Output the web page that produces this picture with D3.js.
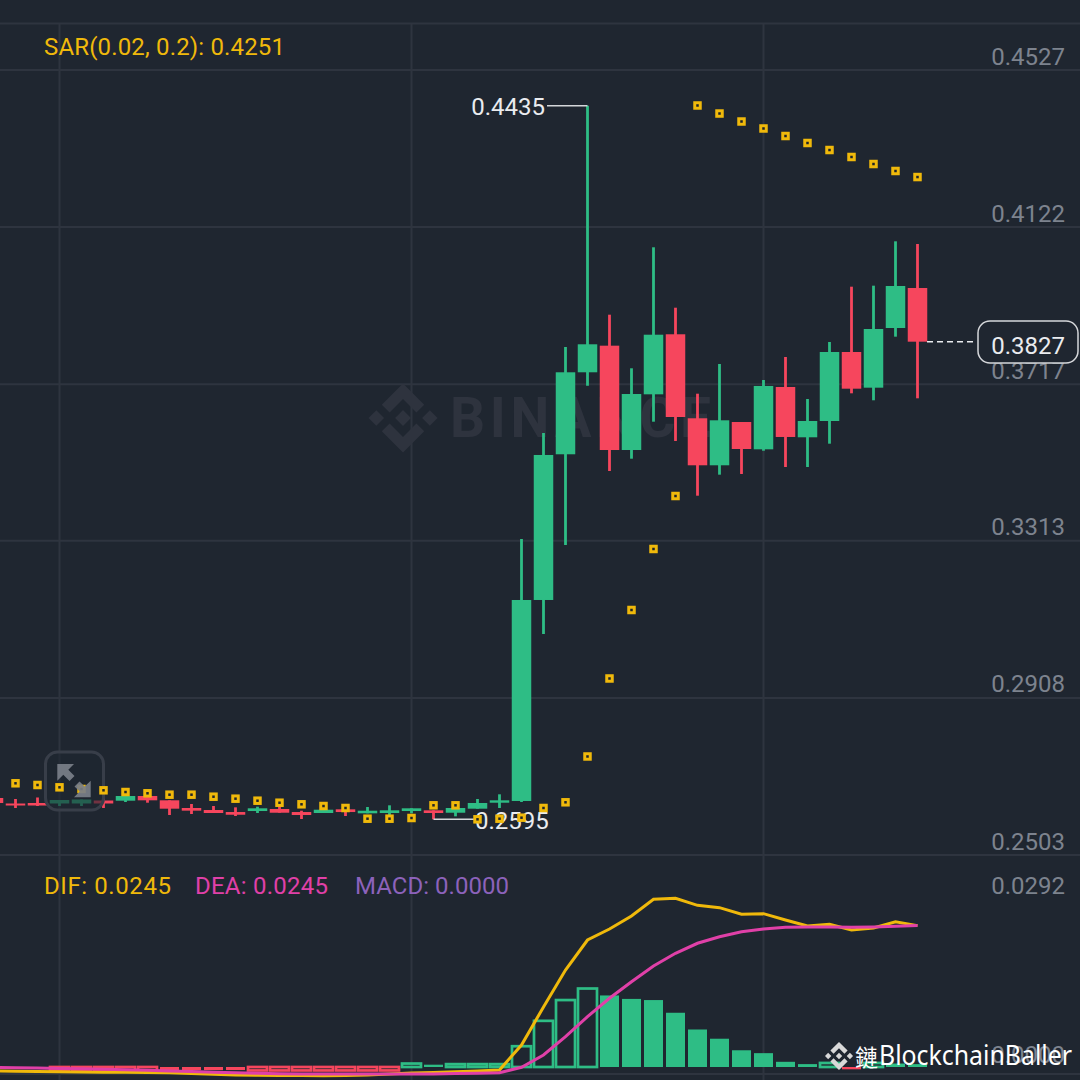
<!DOCTYPE html>
<html>
<head>
<meta charset="utf-8">
<script src="https://d3js.org/d3.v7.min.js"></script>
<style>
  html, body { margin: 0; padding: 0; background: #1f2630; }
  svg { display: block; }
  text { font-family: Roboto, sans-serif; }
</style>
</head>
<body>
<svg id="chart" width="1080" height="1080"></svg>
<script>
// --- Data ---
const opens = [0.26500, 0.26358, 0.26371, 0.26358, 0.26358, 0.26435, 0.26430, 0.26551, 0.26440, 0.26242, 0.26190,
  0.26138, 0.26164, 0.26216, 0.26138, 0.26113, 0.26208, 0.26105, 0.26113, 0.26164, 0.26182, 0.26120,
  0.26224, 0.26378, 0.26422, 0.31605, 0.35362, 0.37476, 0.38162, 0.35472, 0.36908, 0.38456, 0.36290,
  0.35078, 0.36194, 0.35490, 0.37097, 0.35800, 0.36220, 0.37999, 0.37079, 0.38618, 0.39649];
const closes = [0.26371, 0.26306, 0.26306, 0.26448, 0.26461, 0.26358, 0.26551, 0.26440, 0.26224, 0.26173, 0.26113,
  0.26068, 0.26234, 0.26120, 0.26061, 0.26198, 0.26138, 0.26172, 0.26182, 0.26234, 0.26113, 0.26242,
  0.26371, 0.26440, 0.31605, 0.35344, 0.37476, 0.38198, 0.35472, 0.36916, 0.38445, 0.36323, 0.35078,
  0.36238, 0.35498, 0.37123, 0.35808, 0.36220, 0.37999, 0.37053, 0.38592, 0.39701, 0.38265];
const highs = [0.26520, 0.26474, 0.26513, 0.26448, 0.26461, 0.26551, 0.26551, 0.26551, 0.26440, 0.26345, 0.26293,
  0.26259, 0.26275, 0.26301, 0.26172, 0.26198, 0.26208, 0.26267, 0.26311, 0.26234, 0.26182, 0.26242,
  0.26474, 0.26595, 0.33178, 0.35911, 0.38128, 0.4435, 0.38961, 0.37579, 0.40699, 0.39141, 0.36924,
  0.37690, 0.36194, 0.37277, 0.37870, 0.36787, 0.38257, 0.39683, 0.39709, 0.40853, 0.40784];
const lows = [0.26345, 0.26242, 0.26293, 0.26293, 0.26293, 0.26242, 0.26396, 0.26378, 0.26061, 0.26087, 0.26113,
  0.26035, 0.26113, 0.26120, 0.25958, 0.26113, 0.26035, 0.26105, 0.26061, 0.26105, 0.2595, 0.26027,
  0.26224, 0.26242, 0.26396, 0.30728, 0.33023, 0.37130, 0.34931, 0.35248, 0.36202, 0.35705, 0.34294,
  0.34836, 0.34854, 0.35454, 0.35034, 0.35034, 0.35635, 0.36934, 0.36754, 0.38394, 0.36805];
const sar = [null, 0.26879, 0.26835, 0.26775, 0.26732, 0.26698, 0.26654, 0.26621, 0.26585, 0.26585, 0.26533,
  0.26482, 0.26430, 0.26378, 0.26337, 0.26293, 0.26242, 0.25966, 0.25966, 0.25984, 0.26311, 0.26311,
  0.25950, 0.25966, 0.25992, 0.26242, 0.26389, 0.27570, 0.29581, 0.31347, 0.32920, 0.34286, 0.44355,
  0.44148, 0.43942, 0.43762, 0.43568, 0.43388, 0.43207, 0.43027, 0.42846, 0.42666, 0.4251];
const dif = [-0.00069, -0.00075, -0.00080, -0.00083, -0.00087, -0.00090, -0.00092, -0.00095, -0.00099, -0.00114, -0.00127,
  -0.00139, -0.00142, -0.00146, -0.00149, -0.00151, -0.00149, -0.00139, -0.00121, -0.00104, -0.00095, -0.00083,
  -0.00069, -0.00052, 0.00381, 0.0104, 0.01681, 0.02201, 0.02392, 0.02617, 0.02906, 0.02924, 0.02802,
  0.02761, 0.02646, 0.02657, 0.02548, 0.02444, 0.02473, 0.02374, 0.02409, 0.02518, 0.0245];
const dea = [-0.00009, -0.00014, -0.00019, -0.00024, -0.00031, -0.00040, -0.00049, -0.00057, -0.00069, -0.00080, -0.00090,
  -0.00101, -0.00109, -0.00116, -0.00120, -0.00121, -0.00123, -0.00123, -0.00123, -0.00121, -0.00120, -0.00114,
  -0.00107, -0.00099, -0.00005, 0.00208, 0.00525, 0.00872, 0.01191, 0.01478, 0.01750, 0.01971, 0.02144,
  0.02258, 0.02345, 0.02392, 0.02421, 0.02426, 0.02426, 0.02421, 0.02426, 0.02438, 0.0245];
const hist = [-0.00012, -0.00011, -0.0001, -0.0006, -0.0006, -0.0006, -0.0006, -0.0006, -0.00056, -0.00055, -0.00054,
  -0.00053, -0.0006, -0.0006, -0.0006, -0.0006, -0.0006, -0.0006, -0.0006, 0.0006, 0.0004, 0.0005,
  0.0005, 0.0005, 0.0036, 0.0080, 0.0116, 0.0136, 0.0124, 0.0118, 0.0116, 0.0094, 0.0065,
  0.0049, 0.0029, 0.0024, 0.0009, 0.0005, 0.0007, -0.0004, 0.0007, 0.0006, 0.0005];

const priceTicks = [0.4527, 0.4122, 0.3717, 0.3313, 0.2908, 0.2503];
const macdTicks = [0.0292, 0];
const timeGridIdx = [3, 19, 35];   // vertical grid sits on these candles
const lastPrice = 0.3827, highIdx = 27, lowIdx = 20;

const bg = "#1f2630", gridCol = "#2e343f", axisCol = "#7d838e";
const green = "#2ebd85", red = "#f6465d", yellow = "#f0b90b", pink = "#e040a8", purple = "#8c62bb";

const svg = d3.select("#chart");
svg.append("rect").attr("width", 1080).attr("height", 1080).attr("fill", bg);

// --- Scales ---
const idx = d3.range(opens.length);
const x = d3.scalePoint().domain(idx).range([-6.5, 917.5]);
const y = d3.scaleLinear().domain([0.4527, 0.2503]).range([70, 855]);
const m = d3.scaleLinear().domain([0, 0.0292]).range([1067, 898.5]);

// --- Grid ---
const hLines = [23.5, ...priceTicks.map(y), 1074];
svg.append("g").selectAll("line").data(hLines).enter().append("line")
  .attr("x1", 0).attr("x2", 1080).attr("y1", d => d).attr("y2", d => d)
  .attr("stroke", gridCol).attr("stroke-width", 2);
svg.append("g").selectAll("line").data(timeGridIdx).enter().append("line")
  .attr("x1", d => x(d)).attr("x2", d => x(d)).attr("y1", 24).attr("y2", 1080)
  .attr("stroke", gridCol).attr("stroke-width", 2);

// --- Logo helper ---
const logoPaths = [
  "M38.73 53.2l24.59-24.58 24.6 24.6 14.3-14.31L63.32 0 24.42 38.9z",
  "M0 63.31l14.3-14.31 14.31 14.31-14.31 14.3z",
  "M38.73 73.41l24.59 24.59 24.6-24.6 14.31 14.29-38.9 38.91-38.91-38.88z",
  "M98.28 63.31l14.3-14.31 14.31 14.3-14.31 14.32z",
  "M77.83 63.3L63.32 48.78 52.59 59.51l-1.24 1.23-2.54 2.54 14.51 14.5 14.51-14.47z"
];
function drawLogo(px, py, size, col) {
  const g = svg.append("g").attr("transform", `translate(${px},${py}) scale(${size / 126.61})`);
  g.selectAll("path").data(logoPaths).enter().append("path").attr("d", d => d).attr("fill", col);
}

// --- Binance watermark ---
drawLogo(368.5, 383.5, 69, "#2e333e");
svg.append("text").attr("x", 450).attr("y", 437).attr("textLength", 261).attr("lengthAdjust", "spacing")
  .attr("font-size", 55).attr("font-weight", 700).attr("fill", "#2e333e").text("BINANCE");

// --- MACD histogram ---
const isHollow = i => i > 0 && Math.abs(hist[i]) >= Math.abs(hist[i - 1]);
const barCol = i => hist[i] >= 0 ? green : red;
const barW = 19;
svg.append("g").selectAll("rect").data(idx).enter().append("rect")
  .attr("x", i => x(i) - barW / 2)
  .attr("width", barW)
  .attr("y", i => Math.min(m(hist[i]), m(0)))
  .attr("height", i => Math.abs(m(hist[i]) - m(0)))
  .attr("fill", i => isHollow(i) ? "none" : barCol(i))
  .attr("stroke", i => isHollow(i) ? barCol(i) : "none")
  .attr("stroke-width", 2.7);

// --- MACD lines ---
const macdLine = d3.line().x((d, i) => x(i)).y(d => m(d));
svg.append("path").attr("d", macdLine(dif)).attr("fill", "none").attr("stroke", yellow).attr("stroke-width", 3);
svg.append("path").attr("d", macdLine(dea)).attr("fill", "none").attr("stroke", pink).attr("stroke-width", 3);

// --- Candles ---
const candleCol = i => closes[i] >= opens[i] ? green : red;
const candles = svg.append("g").selectAll("g").data(idx).enter().append("g");
candles.append("line")
  .attr("x1", i => x(i)).attr("x2", i => x(i))
  .attr("y1", i => y(highs[i])).attr("y2", i => y(lows[i]))
  .attr("stroke", candleCol).attr("stroke-width", 2.8);
candles.append("rect")
  .attr("x", i => x(i) - 9.75).attr("width", 19.5)
  .attr("y", i => y(Math.max(opens[i], closes[i])))
  .attr("height", i => Math.abs(y(opens[i]) - y(closes[i])))
  .attr("fill", candleCol);

// --- Expand button, sits over the candles ---
svg.append("rect").attr("x", 45.5).attr("y", 752).attr("width", 58).attr("height", 58).attr("rx", 12)
  .attr("fill", bg).attr("fill-opacity", 0.62).attr("stroke", "#383e49").attr("stroke-width", 3);

// --- High / low markers ---
svg.append("polyline").attr("fill", "none").attr("stroke", "#d5d7da").attr("stroke-width", 1.5)
  .attr("points", [[547, y(highs[highIdx])], [x(highIdx), y(highs[highIdx])]].join(" "));
svg.append("text").attr("x", 545).attr("y", y(highs[highIdx]) + 9).attr("text-anchor", "end")
  .attr("font-size", 24).attr("fill", "#eaecef").text(d3.format(".4f")(highs[highIdx]));
svg.append("polyline").attr("fill", "none").attr("stroke", "#d5d7da").attr("stroke-width", 1.5)
  .attr("points", [[x(lowIdx), y(lows[lowIdx])], [474, y(lows[lowIdx])]].join(" "));
svg.append("text").attr("x", 475).attr("y", y(lows[lowIdx]) + 10).attr("font-size", 24)
  .attr("fill", "#eaecef").text(d3.format(".4f")(lows[lowIdx]));

// --- SAR dots ---
svg.append("g").selectAll("rect").data(idx.filter(i => sar[i] !== null)).enter().append("rect")
  .attr("x", i => x(i) - 2.75).attr("y", i => y(sar[i]) - 2.75)
  .attr("width", 5.5).attr("height", 5.5)
  .attr("fill", "#1e2329").attr("stroke", yellow).attr("stroke-width", 3);

// --- Expand arrows, above the dots ---
svg.append("g").selectAll("path").data([
  "M57.3 764L74 764L68.3 769.7L74.5 775.9L69.5 780.9L63.3 774.7L57.3 780.7Z",
  "M90.7 797.3L74 797.3L79.7 791.6L74.5 786.4L79.5 781.4L84.7 786.6L90.7 780.7Z"
]).enter().append("path").attr("d", d => d).attr("fill", "#7a7f89").attr("fill-opacity", 0.92);

// --- Axis labels ---
const priceAxis = d3.axisRight(y).tickValues(priceTicks).tickSize(0).tickPadding(0).tickFormat(d3.format(".4f"));
const macdAxis = d3.axisRight(m).tickValues(macdTicks).tickSize(0).tickPadding(0).tickFormat(d3.format(".4f"));
[[priceAxis, -6], [macdAxis, -5]].forEach(([a, off]) => {
  const g = svg.append("g").attr("transform", "translate(1065,0)").call(a);
  g.select(".domain").remove();
  g.selectAll("text").attr("text-anchor", "end").attr("dy", 0).attr("y", off)
    .attr("font-size", 24).attr("font-family", "Roboto, sans-serif").attr("fill", axisCol);
});

// --- Legends ---
const legendText = (px, py, col, s, w) => svg.append("text").attr("x", px).attr("y", py)
  .attr("font-size", 24).attr("fill", col).attr("textLength", w).attr("lengthAdjust", "spacing").text(s);
legendText(44, 55, yellow, "SAR(0.02, 0.2): 0.4251", 241);
legendText(44, 894, yellow, "DIF: 0.0245", 127);
legendText(195, 894, pink, "DEA: 0.0245", 133);
legendText(355, 894, purple, "MACD: 0.0000", 154);

// --- Last price tag ---
svg.append("line").attr("x1", 927).attr("x2", 977).attr("y1", y(closes[42])).attr("y2", y(closes[42]))
  .attr("stroke", "#eaecef").attr("stroke-width", 1.5).attr("stroke-dasharray", "6 4");
svg.append("rect").attr("x", 978).attr("y", 321).attr("width", 100).attr("height", 42).attr("rx", 12)
  .attr("fill", bg).attr("stroke", "#d5d7da").attr("stroke-width", 1.5);
svg.append("text").attr("x", 1065).attr("y", 354).attr("text-anchor", "end")
  .attr("font-size", 24).attr("fill", "#eaecef").text(d3.format(".4f")(lastPrice));

// --- BlockchainBaller stamp ---
drawLogo(825, 1042, 28, "#d9d9d9");
svg.append("text").attr("x", 855).attr("y", 1066).attr("font-size", 23).attr("fill", "#ffffff")
  .style("font-family", "'Noto Sans CJK TC'").text("鏈");
svg.append("text").attr("x", 879).attr("y", 1065).attr("font-size", 27).attr("fill", "#ffffff")
  .attr("textLength", 193).attr("lengthAdjust", "spacingAndGlyphs")
  .style("font-family", "'Noto Sans'").text("BlockchainBaller");
</script>
</body>
</html>
